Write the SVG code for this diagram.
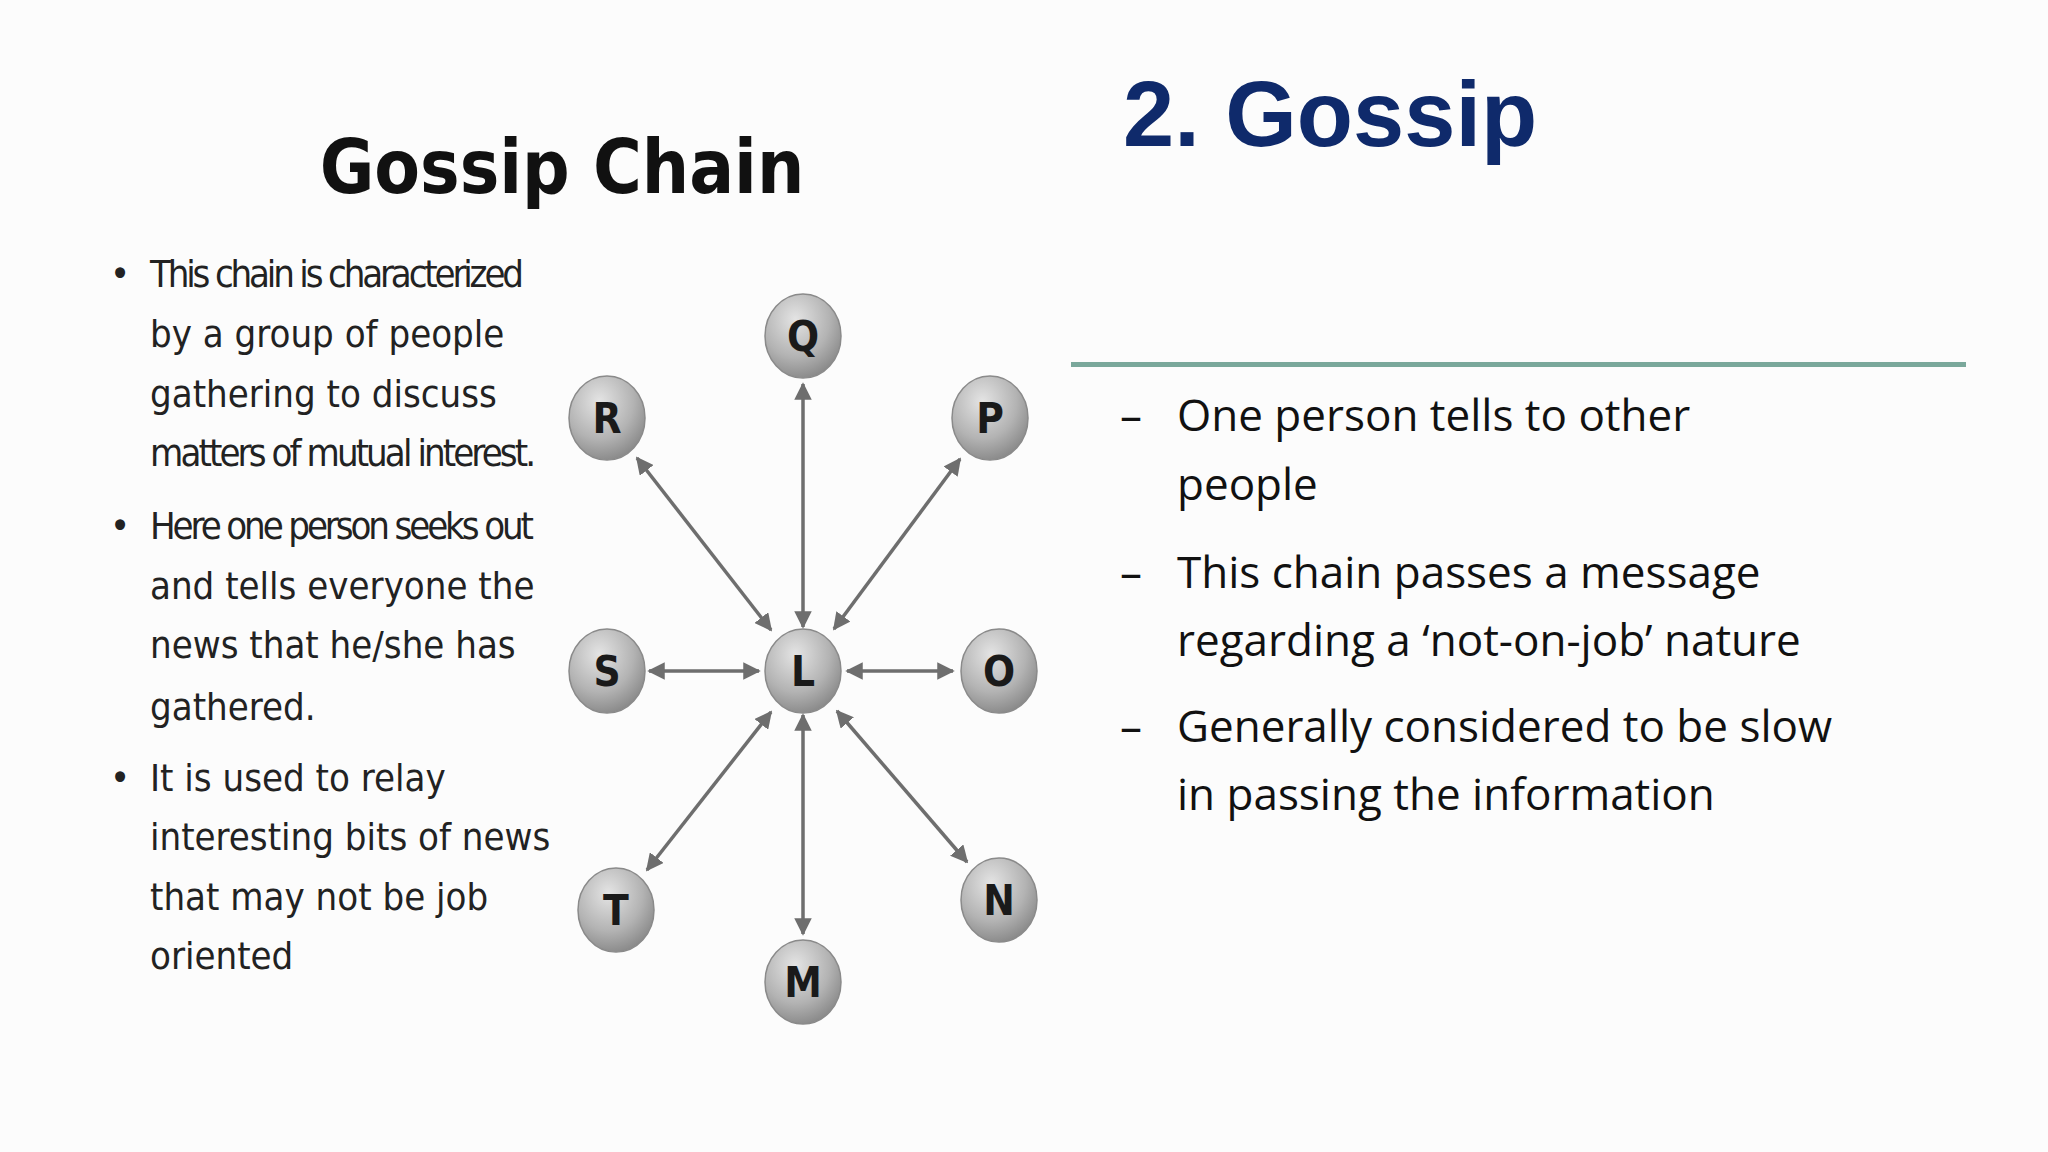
<svg xmlns="http://www.w3.org/2000/svg" width="2048" height="1152" viewBox="0 0 2048 1152">
<style>
.lt{font-family:"DejaVu Sans Condensed","DejaVu Sans",sans-serif;font-size:38px;fill:#222}
.rt{font-family:"Open Sans","Noto Sans",sans-serif;font-size:44px;fill:#111}
.nl{font-family:"DejaVu Sans Condensed","DejaVu Sans",sans-serif;font-size:42px;font-weight:bold;fill:#1a1a1a;text-anchor:middle}
.ar{stroke:#6e6e6e;stroke-width:3.5;fill:none;marker-start:url(#ah);marker-end:url(#ah)}
.nd{fill:url(#g);stroke:#8a8a8a;stroke-width:1.5}
</style>
<defs>
<radialGradient id="g" cx="0.4" cy="0.3" r="0.75">
<stop offset="0" stop-color="#e4e4e4"/><stop offset="0.6" stop-color="#b3b3b3"/><stop offset="1" stop-color="#858585"/>
</radialGradient>
<marker id="ah" viewBox="0 0 10 10" refX="9" refY="5" markerWidth="5" markerHeight="5" orient="auto-start-reverse">
<path d="M0,0 L10,5 L0,10 Z" fill="#6e6e6e"/>
</marker>
</defs>
<rect width="2048" height="1152" fill="#fcfcfc"/>
<text x="1123" y="146" font-family="Liberation Sans,Arial,sans-serif" font-weight="bold" font-size="92" fill="#0f2a6b">2. Gossip</text>
<rect x="1071" y="362" width="895" height="5" fill="#7aa89b"/>
<g id="right-text">
<text class="rt" x="1120" y="431">–</text><text class="rt" x="1177" y="431">One person tells to other</text>
<text class="rt" x="1177" y="500">people</text>
<text class="rt" x="1120" y="588">–</text><text class="rt" x="1177" y="588">This chain passes a message</text>
<text class="rt" x="1177" y="656">regarding a ‘not-on-job’ nature</text>
<text class="rt" x="1120" y="742">–</text><text class="rt" x="1177" y="742">Generally considered to be slow</text>
<text class="rt" x="1177" y="810">in passing the information</text>
</g>
<text x="562" y="193" text-anchor="middle" font-family="DejaVu Sans Condensed,DejaVu Sans,sans-serif" font-weight="bold" font-size="74" fill="#111">Gossip Chain</text>
<g id="left-text">
<text class="lt" x="110" y="287">•</text><text class="lt" x="150" y="287" textLength="374">This chain is characterized</text>
<text class="lt" x="150" y="347">by a group of people</text>
<text class="lt" x="150" y="407">gathering to discuss</text>
<text class="lt" x="150" y="466" textLength="386">matters of mutual interest.</text>
<text class="lt" x="110" y="539">•</text><text class="lt" x="150" y="539" textLength="384">Here one person seeks out</text>
<text class="lt" x="150" y="599">and tells everyone the</text>
<text class="lt" x="150" y="658">news that he/she has</text>
<text class="lt" x="150" y="720">gathered.</text>
<text class="lt" x="110" y="791">•</text><text class="lt" x="150" y="791">It is used to relay</text>
<text class="lt" x="150" y="850">interesting bits of news</text>
<text class="lt" x="150" y="910">that may not be job</text>
<text class="lt" x="150" y="969">oriented</text>
</g>
<g id="connectors">
<line class="ar" x1="803" y1="627" x2="803" y2="384"/>
<line class="ar" x1="803" y1="715" x2="803" y2="934"/>
<line class="ar" x1="759" y1="671" x2="649" y2="671"/>
<line class="ar" x1="847" y1="671" x2="953" y2="671"/>
<line class="ar" x1="771" y1="630" x2="637" y2="458"/>
<line class="ar" x1="834" y1="629" x2="960" y2="459"/>
<line class="ar" x1="771" y1="712" x2="647" y2="870"/>
<line class="ar" x1="837" y1="711" x2="967" y2="862"/>
</g>
<g id="Q"><ellipse class="nd" cx="803" cy="336" rx="38" ry="42"/><text class="nl" x="803" y="351">Q</text></g>
<g id="R"><ellipse class="nd" cx="607" cy="418" rx="38" ry="42"/><text class="nl" x="607" y="433">R</text></g>
<g id="P"><ellipse class="nd" cx="990" cy="418" rx="38" ry="42"/><text class="nl" x="990" y="433">P</text></g>
<g id="S"><ellipse class="nd" cx="607" cy="671" rx="38" ry="42"/><text class="nl" x="607" y="686">S</text></g>
<g id="L"><ellipse class="nd" cx="803" cy="671" rx="38" ry="42"/><text class="nl" x="803" y="686">L</text></g>
<g id="O"><ellipse class="nd" cx="999" cy="671" rx="38" ry="42"/><text class="nl" x="999" y="686">O</text></g>
<g id="T"><ellipse class="nd" cx="616" cy="910" rx="38" ry="42"/><text class="nl" x="616" y="925">T</text></g>
<g id="M"><ellipse class="nd" cx="803" cy="982" rx="38" ry="42"/><text class="nl" x="803" y="997">M</text></g>
<g id="N"><ellipse class="nd" cx="999" cy="900" rx="38" ry="42"/><text class="nl" x="999" y="915">N</text></g>
</svg>
